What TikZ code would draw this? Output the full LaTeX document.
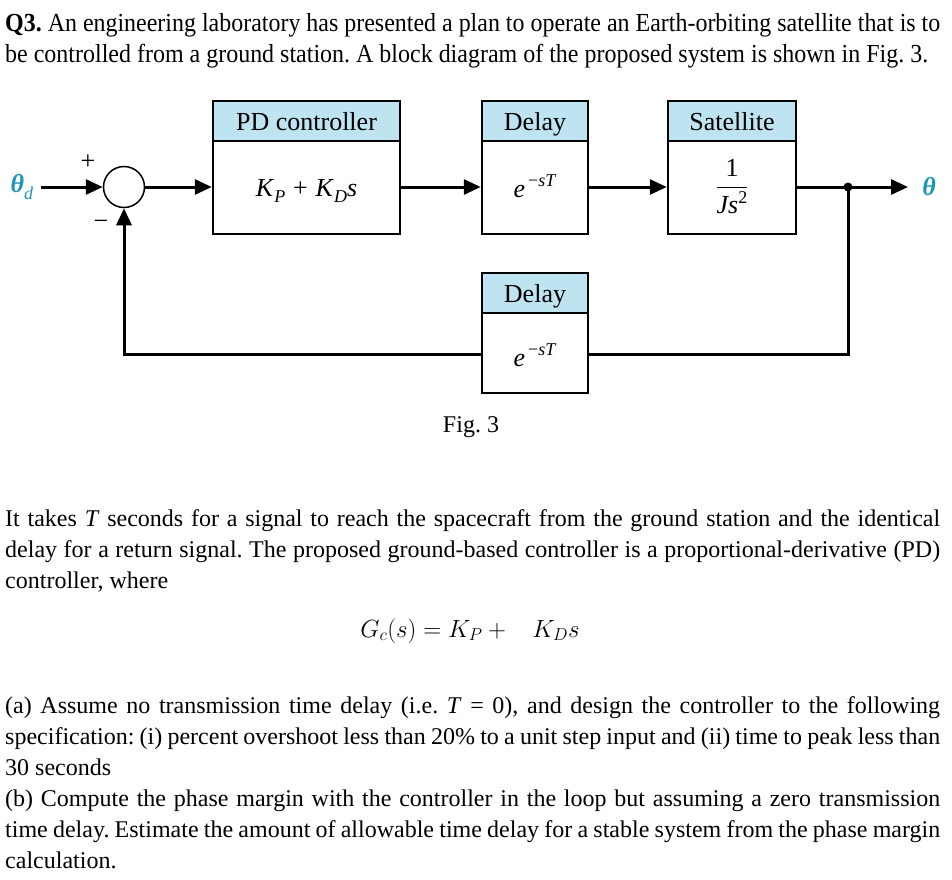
\documentclass[tikz,border=0pt]{standalone}
\usepackage{fontspec}
\usepackage{amsmath}
\usepackage{graphicx}
\setmainfont{Liberation Serif}
\frenchspacing
\usetikzlibrary{arrows.meta,calc}
\definecolor{hdrblue}{RGB}{190,228,242}
\definecolor{teal}{RGB}{28,150,182}
\newcommand\mysub[1]{\raisebox{-0.26em}{\fontsize{18}{18}\selectfont\textit{#1}}}
\newcommand\mysup[1]{\raisebox{0.42em}{\fontsize{18}{18}\selectfont #1}}
\newcommand\myKp{\textit{K}\mysub{P}}
\newcommand\myKd{\textit{K}\mysub{D}}
\newcommand\myDelay{\textit{e}\mysup{\,−\textit{sT}}}
\begin{document}
\begin{tikzpicture}[x=1pt,y=-1pt,
  txt/.style={anchor=base west,inner sep=0pt,font=\fontsize{24}{31}\selectfont},
  lbl/.style={inner sep=0pt,font=\fontsize{26}{30}\selectfont},
  blk/.style={draw,line width=2.5pt,minimum width=#1,minimum height=133pt,inner sep=0pt,
     path picture={\fill[hdrblue] (path picture bounding box.north west) rectangle ([yshift=-40pt]path picture bounding box.north east);
       \draw[line width=2.5pt] ([yshift=-40pt]path picture bounding box.north west) -- ([yshift=-40pt]path picture bounding box.north east);}},
  blkb/.style={draw,line width=2.5pt,minimum width=#1,minimum height=120pt,inner sep=0pt,
     path picture={\fill[hdrblue] (path picture bounding box.north west) rectangle ([yshift=-40pt]path picture bounding box.north east);
       \draw[line width=2.5pt] ([yshift=-40pt]path picture bounding box.north west) -- ([yshift=-40pt]path picture bounding box.north east);}},
  sig/.style={line width=3pt,-{Triangle[length=17pt,width=15pt]}},
  wire/.style={line width=3pt},
  sumj/.style={circle,draw,line width=1.5pt,minimum size=41pt,inner sep=0pt}
]
\useasboundingbox (0,0) rectangle (952,879);
% text
\node[txt,font=\fontsize{26}{31}\selectfont] (l1) at (5,31) {\resizebox{935pt}{\height}{\textbf{Q3.} An engineering laboratory has presented a plan to operate an Earth-orbiting satellite that is to}};
\node[txt,font=\fontsize{26}{31}\selectfont] (l2) at (5,62) {\resizebox{923pt}{\height}{be controlled from a ground station. A block diagram of the proposed system is shown in Fig. 3.}};
\node[txt,anchor=base] (fig) at (471,432) {Fig. 3};
\node[txt] (p1) at (5,526) {\makebox[935pt][s]{It takes \textit{T} seconds for a signal to reach the spacecraft from the ground station and the identical}};
\node[txt] (p2) at (5,557) {\makebox[935pt][s]{delay for a return signal. The proposed ground-based controller is a proportional-derivative (PD)}};
\node[txt] (p3) at (5,588) {controller, where};
\node[txt,anchor=base,font=\fontsize{25}{30}\selectfont] (eq) at (470,637) {$G_c(s) = K_P + \;\;\; K_D s$};
\node[txt] (a1) at (5,713) {\makebox[935pt][s]{(a) Assume no transmission time delay (i.e. \textit{T} = 0), and design the controller to the following}};
\node[txt] (a2) at (5,744) {\makebox[935pt][s]{specification: (i) percent overshoot less than 20\% to a unit step input and (ii) time to peak less than}};
\node[txt] (a3) at (5,775) {30 seconds};
\node[txt] (b1) at (5,806) {\makebox[935pt][s]{(b) Compute the phase margin with the controller in the loop but assuming a zero transmission}};
\node[txt] (b2) at (5,837) {\makebox[935pt][s]{time delay. Estimate the amount of allowable time delay for a stable system from the phase margin}};
\node[txt] (b3) at (5,868) {calculation.};
% diagram
\node[sumj] (sum) at (124,187) {};
\node[lbl,text=teal] (thd) at (22,187) {\textbf{\textit{θ}}\mysub{d}};
\node[lbl] (plus) at (88,162) {+};
\node[lbl] (minus) at (101,225) {−};
\node[blk=187pt] (pd) at (306.5,167.5) {};
\node[blk=106pt] (d1) at (535,167.5) {};
\node[blk=128pt] (sat) at (732,167.5) {};
\node[blkb=106pt] (d2) at (535,333) {};
\node[lbl,anchor=base] (pdh) at (306.5,130) {PD controller};
\node[lbl,anchor=base] (pdb) at (306.5,196) {\myKp\hspace{0.3em}+\hspace{0.3em}\myKd\textit{s}};
\node[lbl,anchor=base] (d1h) at (535,130) {Delay};
\node[lbl,anchor=base] (d1b) at (535,197) {\myDelay};
\node[lbl,anchor=base] (sath) at (732,130) {Satellite};
\node[lbl] (satb) at (732,187) {$\dfrac{\text{1}}{\text{\textit{Js}\mysup{2}}}$};
\node[lbl,anchor=base] (d2h) at (535,302) {Delay};
\node[lbl,anchor=base] (d2b) at (535,366) {\myDelay};
\node[lbl,text=teal] (th) at (929,187) {\textbf{\textit{θ}}};
\coordinate (br) at (848,187);
\coordinate (out) at (908,187);
\coordinate (fbR) at (848,354);
\coordinate (fbL) at (124,354);
\fill (br) circle (4.5pt);
\draw[sig] (thd.east) ++(8,0) -- (sum.west);
\draw[sig] (sum.east) -- (pd.west |- sum.east);
\draw[sig] (pd.east |- sum.east) -- (d1.west |- sum.east);
\draw[sig] (d1.east |- sum.east) -- (sat.west |- sum.east);
\draw[wire] (sat.east |- sum.east) -- (br);
\draw[sig] (br) -- (out);
\draw[wire] (br) -- (fbR) -- (d2.east |- fbR);
\draw[sig] (d2.west |- fbR) -- (fbL) -- (sum.south);
\end{tikzpicture}
\end{document}
